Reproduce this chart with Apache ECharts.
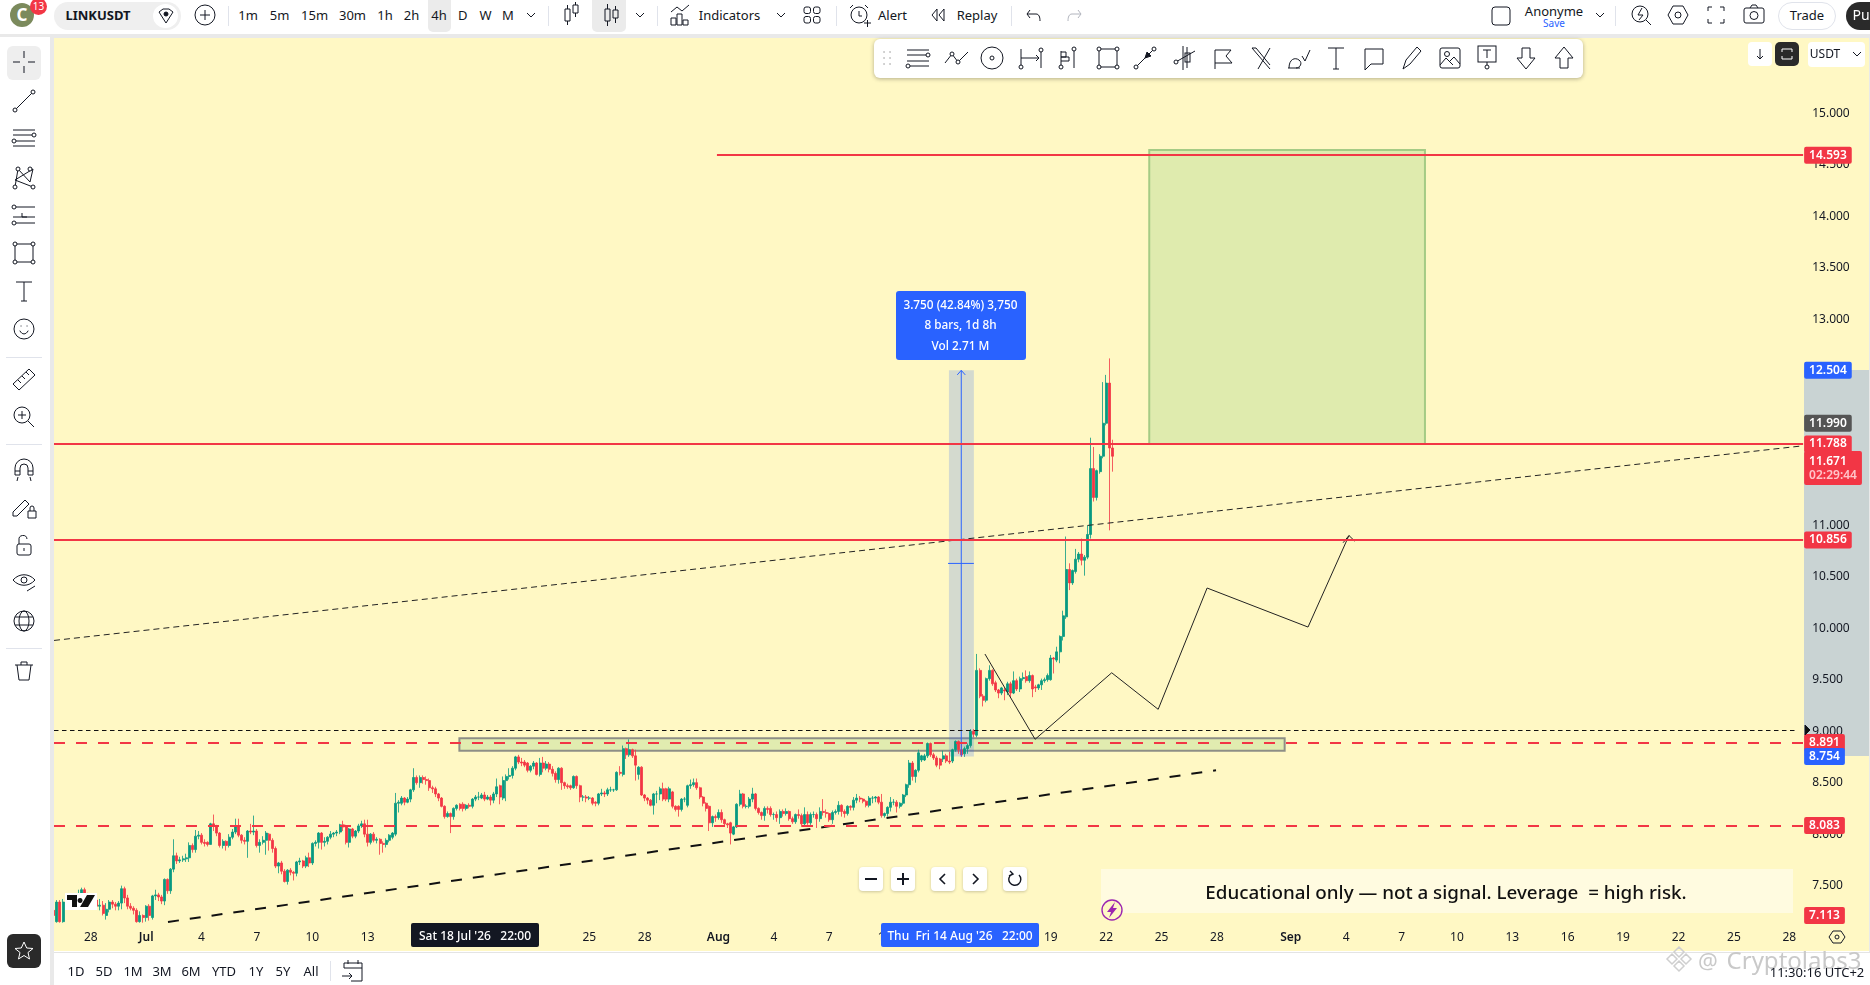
<!DOCTYPE html>
<html><head><meta charset="utf-8"><title>LINKUSDT</title>
<script src="https://cdn.jsdelivr.net/npm/echarts@6/dist/echarts.min.js"></script>
<style>
html,body{margin:0;padding:0;width:1870px;height:985px;overflow:hidden;background:#fff;font-family:"Noto Sans",sans-serif;color:#131722}
#panel{position:absolute;left:54px;top:37px;width:1815px;height:914px;background:#fff8c4}
#chart{position:absolute;left:0;top:0;width:1870px;height:985px}
#ui{position:absolute;left:0;top:0;width:1870px;height:985px;pointer-events:none}
.b{position:absolute;box-sizing:border-box}
.t{position:absolute;white-space:pre;transform:translate(-50%,-50%);font-size:13px;line-height:1.1}
svg{position:absolute;overflow:visible}
</style></head><body>
<div id="panel"></div><div id="chart"></div><div id="ui"></div>
<script>
// Candles [open, close, low, high]
const barsJun=[[7.26,7.21,7.14,7.33],[7.15,7.34,7.14,7.36],[7.34,7.15,7.14,7.36],[7.15,7.34,7.14,7.37],[7.34,7.35,7.30,7.38],[7.35,7.36,7.32,7.39],[7.36,7.37,7.33,7.40],[7.37,7.40,7.34,7.42],[7.40,7.41,7.37,7.46],[7.41,7.46,7.38,7.48],[7.46,7.42,7.38,7.48],[7.42,7.39,7.35,7.43],[7.39,7.40,7.35,7.42],[7.40,7.36,7.31,7.41],[7.36,7.30,7.27,7.38],[7.30,7.31,7.26,7.37],[7.31,7.23,7.21,7.35],[7.21,7.27,7.17,7.33],[7.27,7.34,7.24,7.36],[7.34,7.32,7.28,7.36],[7.32,7.30,7.26,7.34],[7.30,7.33,7.26,7.35],[7.33,7.47,7.27,7.50],[7.47,7.38,7.33,7.49],[7.38,7.30,7.27,7.41],[7.30,7.28,7.26,7.33],[7.28,7.26,7.22,7.30],[7.26,7.15,7.14,7.28],[7.15,7.21,7.14,7.25],[7.21,7.19,7.14,7.22]];
const barsJulA=[[7.19,7.30,7.15,7.31],[7.30,7.21,7.16,7.32],[7.19,7.40,7.17,7.41],[7.40,7.41,7.36,7.46],[7.41,7.39,7.35,7.43],[7.39,7.35,7.32,7.41],[7.35,7.56,7.31,7.57],[7.56,7.45,7.42,7.57],[7.45,7.66,7.42,7.67],[7.66,7.79,7.63,7.95],[7.79,7.74,7.71,7.82],[7.74,7.75,7.72,7.78],[7.75,7.76,7.73,7.79],[7.76,7.77,7.73,7.81],[7.77,7.89,7.73,7.92],[7.89,7.85,7.82,7.91],[7.85,7.98,7.82,8.04],[7.98,7.99,7.95,8.03],[7.99,7.92,7.90,8.01],[7.92,7.91,7.88,7.95],[7.92,7.90,7.88,7.93],[7.90,8.10,7.90,8.11],[8.10,8.08,8.03,8.19],[8.08,8.01,7.98,8.09],[8.01,7.89,7.87,8.02],[7.89,7.93,7.86,7.95],[7.93,7.89,7.84,7.94],[7.89,7.97,7.87,8.00],[7.97,8.02,7.95,8.05],[8.02,8.07,8.00,8.15],[8.07,7.99,7.97,8.15],[7.99,7.94,7.91,8.00],[7.94,7.93,7.90,7.97],[7.93,8.03,7.77,8.04],[8.03,8.02,8.00,8.10],[8.02,8.03,7.99,8.18],[8.03,7.89,7.87,8.05],[7.89,7.92,7.82,7.95],[7.92,7.94,7.90,7.98],[7.94,8.01,7.80,8.03],[8.00,7.94,7.84,8.01],[7.94,7.86,7.82,7.96],[7.86,7.69,7.67,7.88],[7.69,7.72,7.62,7.73],[7.72,7.64,7.61,7.74],[7.64,7.54,7.53,7.66],[7.54,7.65,7.51,7.66],[7.65,7.63,7.60,7.67],[7.63,7.62,7.55,7.64],[7.62,7.73,7.59,7.74],[7.73,7.74,7.70,7.77],[7.74,7.69,7.67,7.75],[7.69,7.77,7.67,7.79],[7.77,7.72,7.68,7.82],[7.72,7.91,7.70,7.92],[7.91,7.92,7.88,7.94],[7.92,8.01,7.86,8.02],[8.01,7.92,7.85,8.02],[7.92,7.93,7.88,7.97],[7.93,7.97,7.90,7.98],[7.97,8.00,7.95,8.03],[8.00,8.01,7.97,8.02],[8.01,8.02,7.98,8.04],[8.02,8.09,8.00,8.10],[8.09,8.07,8.03,8.13],[8.07,7.92,7.90,8.09],[7.92,8.05,7.87,8.06],[8.05,7.98,7.96,8.06],[7.98,8.03,7.96,8.04],[8.03,8.08,8.01,8.10],[8.08,8.10,8.06,8.13],[8.10,8.00,7.97,8.14],[8.00,7.92,7.88,8.14],[7.92,8.00,7.90,8.01],[8.00,7.94,7.92,8.02],[7.94,7.95,7.91,7.97],[7.95,7.91,7.80,7.96],[7.91,7.90,7.82,7.93],[7.90,7.94,7.87,7.96],[7.94,7.99,7.92,8.00],[7.97,8.01,7.95,8.02]];
const barsJulB=[[8.00,8.30,7.98,8.40],[8.30,8.31,8.21,8.33],[8.30,8.35,8.28,8.37],[8.35,8.31,8.28,8.36],[8.31,8.34,8.30,8.36],[8.34,8.43,8.31,8.44],[8.43,8.55,8.41,8.64],[8.55,8.50,8.48,8.57],[8.50,8.55,8.45,8.57],[8.55,8.53,8.49,8.57],[8.53,8.52,8.48,8.56],[8.52,8.45,8.42,8.54],[8.45,8.44,8.40,8.47],[8.44,8.39,8.36,8.46],[8.39,8.35,8.32,8.40],[8.35,8.27,8.26,8.36],[8.27,8.17,8.15,8.28],[8.17,8.20,8.16,8.22],[8.20,8.17,8.01,8.21],[8.17,8.25,8.14,8.26],[8.25,8.28,8.23,8.29],[8.29,8.25,8.23,8.30],[8.29,8.25,8.22,8.31],[8.25,8.28,8.23,8.29],[8.28,8.27,8.25,8.30],[8.27,8.34,8.25,8.35],[8.34,8.36,8.32,8.38],[8.36,8.36,8.33,8.41],[8.35,8.38,8.34,8.40],[8.38,8.34,8.32,8.41],[8.34,8.36,8.33,8.38],[8.36,8.33,8.28,8.38],[8.33,8.39,8.30,8.41],[8.39,8.46,8.36,8.54],[8.47,8.36,8.29,8.48],[8.35,8.52,8.33,8.56],[8.52,8.56,8.32,8.58],[8.56,8.57,8.53,8.64],[8.57,8.64,8.54,8.66],[8.64,8.75,8.62,8.76],[8.75,8.70,8.68,8.77],[8.70,8.69,8.66,8.74],[8.70,8.67,8.65,8.72],[8.69,8.62,8.60,8.70],[8.62,8.66,8.60,8.67],[8.66,8.69,8.63,8.71],[8.69,8.58,8.57,8.70],[8.58,8.69,8.56,8.74],[8.69,8.64,8.60,8.75],[8.64,8.68,8.62,8.71],[8.68,8.63,8.60,8.70],[8.63,8.59,8.56,8.66],[8.59,8.53,8.50,8.61],[8.53,8.64,8.49,8.65],[8.64,8.50,8.43,8.65],[8.50,8.47,8.44,8.51],[8.47,8.46,8.44,8.49],[8.47,8.45,8.43,8.48],[8.45,8.56,8.44,8.57],[8.56,8.47,8.44,8.57],[8.47,8.36,8.31,8.48],[8.36,8.36,8.32,8.38],[8.36,8.35,8.31,8.38],[8.35,8.35,8.33,8.37],[8.35,8.30,8.28,8.36],[8.31,8.30,8.27,8.32],[8.30,8.39,8.28,8.40],[8.39,8.40,8.37,8.44],[8.40,8.39,8.36,8.42],[8.39,8.43,8.37,8.45],[8.43,8.43,8.41,8.46],[8.43,8.43,8.41,8.44],[8.43,8.60,8.42,8.61],[8.60,8.59,8.57,8.66],[8.58,8.83,8.56,8.86],[8.83,8.77,8.73,8.84],[8.77,8.82,8.75,8.92],[8.82,8.76,8.74,8.83],[8.76,8.67,8.52,8.82],[8.58,8.65,8.53,8.66]];
const barsAug=[[8.65,8.38,8.37,8.66],[8.38,8.35,8.32,8.39],[8.35,8.33,8.29,8.36],[8.33,8.28,8.27,8.34],[8.28,8.39,8.19,8.40],[8.39,8.39,8.30,8.42],[8.39,8.44,8.33,8.46],[8.44,8.34,8.32,8.50],[8.44,8.34,8.32,8.45],[8.34,8.44,8.31,8.46],[8.41,8.27,8.25,8.42],[8.27,8.24,8.22,8.28],[8.27,8.24,8.17,8.28],[8.24,8.34,8.22,8.35],[8.34,8.34,8.31,8.36],[8.28,8.47,8.26,8.48],[8.47,8.48,8.44,8.53],[8.48,8.50,8.46,8.54],[8.50,8.45,8.43,8.54],[8.45,8.36,8.34,8.46],[8.36,8.30,8.27,8.37],[8.30,8.25,8.22,8.31],[8.27,8.11,8.03,8.28],[8.11,8.17,8.07,8.18],[8.17,8.16,8.12,8.19],[8.16,8.21,8.14,8.24],[8.21,8.14,8.11,8.24],[8.14,8.10,8.08,8.15],[8.10,8.09,8.06,8.11],[8.11,8.01,7.90,8.12],[8.00,8.07,7.99,8.08],[8.07,8.29,8.06,8.30],[8.29,8.39,8.27,8.43],[8.39,8.27,8.25,8.40],[8.27,8.27,8.25,8.29],[8.27,8.34,8.25,8.36],[8.34,8.39,8.31,8.45],[8.39,8.25,8.23,8.40],[8.25,8.21,8.19,8.26],[8.21,8.18,8.14,8.22],[8.18,8.25,8.13,8.27],[8.25,8.24,8.20,8.27],[8.25,8.19,8.17,8.27],[8.19,8.19,8.14,8.21],[8.19,8.16,8.12,8.22],[8.16,8.22,8.10,8.24],[8.22,8.20,8.17,8.24],[8.20,8.22,8.18,8.25],[8.22,8.15,8.13,8.23],[8.15,8.12,8.10,8.17],[8.12,8.19,8.10,8.20],[8.19,8.18,8.15,8.24],[8.18,8.10,8.07,8.20],[8.10,8.19,8.08,8.26],[8.19,8.11,8.09,8.22],[8.11,8.19,8.09,8.21],[8.19,8.19,8.16,8.22],[8.19,8.15,8.06,8.21],[8.15,8.22,8.12,8.26],[8.22,8.21,8.18,8.34],[8.21,8.20,8.16,8.24],[8.20,8.14,8.12,8.21],[8.14,8.21,8.10,8.23],[8.21,8.22,8.19,8.24],[8.22,8.28,8.19,8.32],[8.28,8.22,8.17,8.29],[8.22,8.20,8.16,8.24],[8.20,8.27,8.18,8.28],[8.27,8.26,8.23,8.28],[8.26,8.33,8.23,8.36],[8.33,8.35,8.30,8.39],[8.35,8.34,8.31,8.37],[8.34,8.32,8.30,8.35],[8.32,8.28,8.26,8.33],[8.28,8.35,8.26,8.37],[8.35,8.35,8.30,8.37],[8.35,8.36,8.31,8.37],[8.36,8.31,8.29,8.37],[8.31,8.18,8.16,8.39],[8.18,8.20,8.16,8.21],[8.20,8.26,8.17,8.27],[8.26,8.31,8.22,8.36],[8.31,8.31,8.28,8.34],[8.31,8.27,8.21,8.33],[8.27,8.30,8.25,8.31],[8.30,8.38,8.28,8.39],[8.38,8.48,8.36,8.49],[8.48,8.69,8.45,8.72],[8.69,8.56,8.52,8.71],[8.56,8.62,8.50,8.63],[8.62,8.79,8.60,8.82],[8.72,8.76,8.70,8.77],[8.72,8.76,8.71,8.78],[8.76,8.88,8.74,8.89],[8.88,8.77,8.75,8.89],[8.77,8.74,8.72,8.79],[8.74,8.67,8.65,8.76],[8.73,8.67,8.63,8.74],[8.73,8.76,8.70,8.81],[8.76,8.71,8.69,8.78],[8.71,8.70,8.68,8.80],[8.71,8.82,8.69,8.83],[8.82,8.90,8.80,8.91],[8.90,8.82,8.78,8.91],[8.82,8.77,8.75,8.90],[8.78,8.83,8.75,8.85],[8.83,8.86,8.78,8.88],[8.86,9.00,8.84,9.02]];
const barsRally=[[9.00,8.97,8.94,9.02],[8.96,9.59,8.94,9.75],[9.59,9.34,9.32,9.61],[9.34,9.30,9.24,9.36],[9.30,9.51,9.28,9.52],[9.51,9.59,9.49,9.64],[9.59,9.46,9.44,9.60],[9.47,9.40,9.38,9.49],[9.40,9.37,9.32,9.41],[9.37,9.42,9.35,9.43],[9.40,9.39,9.30,9.42],[9.38,9.46,9.35,9.48],[9.46,9.37,9.33,9.48],[9.37,9.49,9.36,9.58],[9.49,9.41,9.39,9.51],[9.41,9.51,9.38,9.53],[9.51,9.52,9.49,9.57],[9.53,9.49,9.47,9.59],[9.49,9.54,9.47,9.58],[9.54,9.41,9.33,9.55],[9.43,9.42,9.38,9.45],[9.42,9.45,9.40,9.46],[9.45,9.49,9.40,9.51],[9.49,9.50,9.47,9.52],[9.50,9.54,9.48,9.56],[9.50,9.71,9.49,9.74],[9.71,9.70,9.56,9.72],[9.69,9.77,9.67,9.82],[9.77,9.92,9.66,9.93],[9.92,10.12,9.88,10.17],[10.11,10.57,10.09,10.89],[10.57,10.44,10.37,10.63],[10.44,10.56,10.42,10.57],[10.55,10.67,10.53,10.77],[10.67,10.72,10.64,10.74],[10.72,10.66,10.61,10.87],[10.66,10.69,10.51,10.71],[10.69,10.91,10.67,11.00],[10.91,11.55,10.87,11.85],[11.55,11.27,11.23,11.76],[11.27,11.53,11.24,11.54],[11.52,11.67,11.50,11.69],[11.67,11.99,11.65,12.39],[11.99,12.38,11.97,12.46],[12.38,11.75,10.95,12.62],[11.75,11.67,11.52,11.83]];
const candles=[].concat(barsJun,barsJulA,barsJulB,barsAug,barsRally);

// Time axis
const barCount=570, firstBarDay=[2026,5,26];
const tickDays=['06-28','07-01','07-04','07-07','07-10','07-13','07-25','07-28','08-01','08-04','08-07','08-10','08-19','08-22','08-25','08-28','09-01','09-04','09-07','09-10','09-13','09-16','09-19','09-22','09-25','09-28'];
const tickTexts=['28','Jul','4','7','10','13','25','28','Aug','4','7','10','19','22','25','28','Sep','4','7','10','13','16','19','22','25','28'];
// Price axis
const priceTicks=[7.5,8,8.5,9,9.5,10,10.5,11,11.5,12,12.5,13,13.5,14,14.5,15];
const priceMin=7.1, priceMax=15.751;
// Horizontal levels
const solidLevels=[14.593,11.788,10.856], solidStarts=[215.5,-0.5,-0.5];
const dashedLevels=[8.891,8.083];
const blueTags=[12.504,8.754], grayTags=[11.990];
const bottomTag=7.113, lastPrice=11.671, countdown='02:29:44', dottedLevel=9.005;
// Drawings in [bar index, price]
const thinTrend=[[0.06,9.881],[567.8,11.769]];
const thickTrend=[[37.1,7.147],[377.7,8.62]];
const zigzag=[[302.6,9.749],[318.9,8.921],[343.8,9.567],[358.9,9.212],[374.8,10.39],[407.6,10.011],[420.9,10.9]];
const zigzagHead=[[419.0,10.83],[420.9,10.9],[422.8,10.845]];
const targetBox=[[356.0,14.644],[445.6,11.788]];
const demandBox=[[131.8,8.93],[400.0,8.81]];
const measureBox=[[290.9,12.504],[299.0,8.754]];
const measureLine=[[294.9,8.754],[294.9,12.504]];
const measureHead=[[293.6,12.46],[294.9,12.504],[296.2,12.46]];
const measureMid=[[290.6,10.629],[299.0,10.629]];

const RED='#f23645',BLUE='#2962ff',UP='#089981',DOWN='#f23645',FONT='"Noto Sans",sans-serif';
const pad2=n=>String(n).padStart(2,'0');
const categories=[];
for(let i=0;i<barCount;i++){
  const d=new Date(Date.UTC(firstBarDay[0],firstBarDay[1],firstBarDay[2])+i*4*3600e3);
  const k=tickDays.indexOf(pad2(d.getUTCMonth()+1)+'-'+pad2(d.getUTCDate()));
  categories.push(d.getUTCHours()===0&&k>=0?tickTexts[k]:'\u200b'+i);
}
const tagLabel=(text,color,extra)=>Object.assign({show:true,position:'end',distance:1,formatter:text,color:'#fff',backgroundColor:color,padding:[2,5,2,5],borderRadius:2,fontFamily:FONT,fontSize:12,fontWeight:600,lineHeight:13},extra||{});
const helper={type:'line',xAxisIndex:1,yAxisIndex:0,data:[],symbol:'none',silent:true,clip:false,animation:false};
const hline=(from,to,p,lineStyle,label,z)=>Object.assign({},helper,{z:z||6,markLine:{silent:true,animation:false,symbol:['none','none'],lineStyle:lineStyle,label:label||{show:false},data:[[{coord:[from,p]},{coord:[to,p]}]]}});
const poly=(data,w,color,dash,z)=>Object.assign({},helper,{data:data,z:z||4,lineStyle:{width:w,color:color,type:dash||'solid'}});
const box=(b,fill,border,bw,z)=>Object.assign({},helper,{z:z||1,markArea:{silent:true,animation:false,itemStyle:{color:fill,borderColor:border,borderWidth:bw},data:[[{coord:b[0]},{coord:b[1]}]]}});
const END=568.5,noLine={color:'rgba(0,0,0,0)',width:1};
const series=[
 box(targetBox,'rgba(76,175,80,.18)','#a5cb85',2),
 box(demandBox,'rgba(76,175,80,.17)','#8e8e86',2),
 {type:'candlestick',xAxisIndex:0,yAxisIndex:0,data:candles,z:2,barWidth:2.5,silent:true,animation:false,progressive:0,large:false,
  itemStyle:{color:UP,color0:DOWN,borderColor:UP,borderColor0:DOWN,borderWidth:0.8}},
 box(measureBox,'rgba(41,98,255,.2)','transparent',0,3),
 poly(measureLine,1,BLUE),poly(measureHead,1,BLUE),poly(measureMid,1,BLUE),
 poly(thinTrend,1,'#222',[6,4]),
 poly(thickTrend,2,'#111',[11,11]),
 poly(zigzag,1,'#222'),poly(zigzagHead,1,'#222'),
 hline(0.05,566.5,dottedLevel,{width:1,color:'#111',type:[4.5,3.5]})
];
solidLevels.forEach((p,k)=>series.push(hline(solidStarts[k],END,p,{width:2,color:RED,type:'solid'},tagLabel(p.toFixed(3),RED),8)));
dashedLevels.forEach(p=>series.push(hline(0.05,END,p,{width:2,color:RED,type:[11,11]},tagLabel(p.toFixed(3),RED),8)));
blueTags.forEach(p=>series.push(hline(END-.1,END,p,noLine,tagLabel(p.toFixed(3),BLUE),9)));
grayTags.forEach(p=>series.push(hline(END-.1,END,p,noLine,tagLabel(p.toFixed(3),'#555'),9)));
series.push(hline(END-.1,END,bottomTag,noLine,tagLabel(bottomTag.toFixed(3),RED,{offset:[0,-10]}),9));
series.push(hline(END-.1,END,lastPrice,noLine,{show:true,position:'end',distance:1,offset:[0,12],formatter:'{a|'+lastPrice.toFixed(3)+'}\n{b|'+countdown+'}',backgroundColor:RED,padding:[3,5,3,5],borderRadius:2,rich:{a:{color:'#fff',fontFamily:FONT,fontSize:12,fontWeight:600,lineHeight:14},b:{color:'#ffc4c9',fontFamily:FONT,fontSize:12,fontWeight:600,lineHeight:14}}},10));

const chart=echarts.init(document.getElementById('chart'),null,{width:1870,height:985});
chart.setOption({
 animation:false,backgroundColor:'transparent',
 grid:{left:52.3,top:36,width:1753.9,height:890.8,containLabel:false},
 xAxis:[
  {type:'category',data:categories,boundaryGap:true,axisLine:{show:false},axisTick:{show:false},splitLine:{show:false},
   axisLabel:{interval:0,hideOverlap:false,margin:5,color:'#131722',fontFamily:FONT,fontSize:12,
    formatter:v=>v.charAt(0)==='\u200b'?'':(/[A-Z]/.test(v)?'{m|'+v+'}':v),rich:{m:{fontWeight:600,fontFamily:FONT,fontSize:12,color:'#131722'}}}},
  {type:'value',min:-0.5,max:barCount-0.5,show:false,splitLine:{show:false}}
 ],
 yAxis:{type:'value',position:'right',min:priceMin,max:priceMax,z:3,axisLine:{show:false},axisTick:{show:false},splitLine:{show:false},
  axisLabel:{customValues:priceTicks,margin:6,color:'#131722',fontFamily:FONT,fontSize:12,formatter:v=>v.toFixed(3)}},
 series:series
});

// Price-axis highlight of the measured range, placed through the axis scale
(function(){
  const y0=chart.convertToPixel({yAxisIndex:0},measureBox[0][1]), y1=chart.convertToPixel({yAxisIndex:0},measureBox[1][1]);
  const e=document.createElement('div');
  e.style.cssText=`position:absolute;left:${1804-54}px;top:${y0-37}px;width:65px;height:${y1-y0}px;background:rgba(41,98,255,.25)`;
  document.getElementById('panel').appendChild(e);
})();

// ---------- terminal chrome ----------
const ui=document.getElementById('ui');
function box2(x,y,w,h,css){const e=document.createElement('div');e.className='b';e.style.cssText=`left:${x}px;top:${y}px;width:${w}px;height:${h}px;`+(css||'');ui.appendChild(e);return e;}
function txt(x,y,s,css){const e=document.createElement('div');e.className='t';e.textContent=s;e.style.cssText=`left:${x}px;top:${y}px;`+(css||'');ui.appendChild(e);return e;}
function ic(x,y,body,stroke,sw,fill){const n='http://www.w3.org/2000/svg';const s=document.createElementNS(n,'svg');s.setAttribute('width','1');s.setAttribute('height','1');s.style.left=x+'px';s.style.top=y+'px';s.innerHTML=`<g fill="${fill||'none'}" stroke="${stroke||'#131722'}" stroke-width="${sw||1}">${body}</g>`;ui.appendChild(s);}
const dot=(x,y,r)=>`<circle cx="${x}" cy="${y}" r="${r||2}" fill="#fff"/>`;
// bars and gutters
box2(0,0,1870,34,'background:#fff');box2(0,34,1870,3.5,'background:#e9e9e9');
box2(0,37,50,948,'background:#fff');box2(50,37,4,948,'background:#e9e9e9');
box2(54,951.5,1816,34,'background:#fff;border-top:1px solid #e4e4e4');
box2(1869,37,1,915,'background:#e9e9e9');
// avatar
box2(10,3,24,24,'border-radius:50%;background:#7b8a5c');txt(22,15,'C','color:#fff;font-weight:700;font-size:17px');
box2(30,-2,17,17,'border-radius:50%;background:#f23645');txt(38.5,6,'13','color:#fff;font-size:10px');
// symbol
box2(54,2,127,28,'border-radius:14px;background:#efefef');txt(98,15,'LINKUSDT','font-weight:700;font-size:13px');
box2(153,4,25,24,'border-radius:50%;background:#fff');
ic(166,16,'<path d="M-7,-4 L-3,-7 H3 L7,-4 L0,7 Z"/><circle cx="0" cy="-2" r="2" fill="#131722"/>');
ic(205,15,'<circle r="10"/><path d="M-5,0H5M0,-5V5"/>');
box2(228,6,1,20,'background:#e0e3eb');
[['1m',248],['5m',279.6],['15m',314.6],['30m',352.5],['1h',385],['2h',411.6],['D',462.7],['W',485.6],['M',508]].forEach(a=>txt(a[1],15,a[0]));
box2(428,0,23,32,'background:#ebebeb;border-radius:0 0 5px 5px');txt(439,15,'4h');
const caret=(x,y)=>ic(x,y,'<path d="M-4,-2 L0,2 L4,-2"/>');
caret(531,15);box2(547.5,6,1,20,'background:#e0e3eb');
ic(571,15,'<path d="M-6,-6h5v12h-5zM-3.5,-10v4M-3.5,6v4M2,-10h5v8h-5zM4.5,-13v3M4.5,-2v4"/>');
box2(592,0,34,32,'background:#ebebeb;border-radius:0 0 5px 5px');
ic(611,15,'<path d="M-6,-6h5v12h-5zM-3.5,-11v5M-3.5,6v5M2,-5h5v8h-5zM4.5,-9v4M4.5,3v5"/>');
caret(640,15);box2(657,6,1,20,'background:#e0e3eb');
ic(680,15,'<path d="M-9,10v-7h5v7zM-3,10v-11h5v11zM3,10v-5h5v5zM-9,-3L-3,-8L2,-4L9,-10"/>');
txt(729.5,15,'Indicators');caret(781,15);
ic(812,15,'<rect x="-8" y="-8" width="6.5" height="6.5" rx="2"/><rect x="1.5" y="-8" width="6.5" height="6.5" rx="2"/><rect x="-8" y="1.5" width="6.5" height="6.5" rx="2"/><rect x="1.5" y="1.5" width="6.5" height="6.5" rx="2"/>');
box2(836,6,1,20,'background:#e0e3eb');
ic(859,15,'<circle r="8" cy="0"/><path d="M0,-4V1H3M-9,-7L-6,-10M9,-7L6,-10M5,8h7M8.5,5v7"/>');
txt(892.5,15,'Alert');
ic(938,15,'<path d="M-1,-6L-6,0L-1,6ZM6,-6L1,0L6,6Z"/>');txt(977,15,'Replay');
box2(1011,6,1,20,'background:#e0e3eb');
ic(1034.5,15,'<path d="M-5,-5L-8,-1L-5,3M-8,-1H1C4,-1 5,2 5,6"/>');
ic(1072.5,15,'<path d="M5,-5L8,-1L5,3M8,-1H-1C-4,-1 -5,2 -5,6"/>','#b2b5be');
ic(1501,16,'<rect x="-9" y="-9" width="18" height="18" rx="3"/>');
txt(1554,11,'Anonyme');txt(1554,23,'Save','color:#2962ff;font-size:10px');
caret(1600,15);box2(1615,6,1,20,'background:#e0e3eb');
ic(1641,15,'<circle cx="-1" cy="-1" r="8"/><path d="M5,5L10,10M1,-7L-3,0H2L-2,5"/>');
ic(1678,15,'<path d="M-5,-9H5L10,0L5,9H-5L-10,0Z"/><circle r="3"/>');
ic(1715.5,15,'<path d="M-8,-4V-8H-4M4,-8H8V-4M8,4V8H4M-4,8H-8V4"/>');
ic(1753.5,15,'<rect x="-10" y="-7" width="20" height="15" rx="2"/><circle cy="0.5" r="4"/><path d="M-4,-7L-2,-10H2L4,-7"/>');
box2(1778,2,58,28,'border:1px solid #e0e3eb;border-radius:14px');txt(1807,15,'Trade');
box2(1846,2,30,28,'border-radius:14px 0 0 14px;background:#2a2a2a');txt(1861,15,'Pu','color:#fff;font-size:14px');
// floating drawing toolbar
box2(874,39,709,39,'background:#fff;border-radius:6px;box-shadow:0 1px 4px rgba(0,0,0,.3)');
const tx=z=>860+z/1.552, ty=58;
ic(tx(42),ty,'<path d="M-3,-6h.1M3,-6h.1M-3,0h.1M3,0h.1M-3,6h.1M3,6h.1" stroke-linecap="round" stroke-width="2"/>','#c8c8c8');
ic(tx(90),ty,'<path d="M-11,-8H11M-11,-3H9M-11,3H11M-8,8H11"/>'+dot(10,-3)+dot(-10,8));
ic(tx(150),ty,'<path d="M-12,5L-5,-4L1,4L11,-6"/>'+dot(-5,-4)+dot(1,4));
ic(tx(205),ty,'<circle r="11"/><circle r="2"/>');
ic(tx(265),ty,'<path d="M-10,-9V10M10,-9V10M-10,0H8M5,-3L8,0L5,3"/>'+dot(-10,9)+dot(10,-8));
ic(tx(323),ty,'<path d="M6,-10V10M-7,-7V10M-7,-6h5v5h-5M-7,-1h8v4h-8"/>'+dot(6,-9)+dot(-7,9));
ic(tx(385),ty,'<rect x="-9" y="-9" width="18" height="18"/>'+dot(-9,-9)+dot(9,-9)+dot(-9,9)+dot(9,9));
ic(tx(443),ty,'<path d="M-9,9L9,-9"/><path d="M0,0L6,-2L2,-6Z" fill="#131722"/>'+dot(-9,9)+dot(9,-9));
ic(tx(503),ty,'<path d="M-1,-12V12M3,-11V10M-10,5L11,-7"/><rect x="1" y="-5" width="5" height="9"/>'+dot(-8,4));
ic(tx(563),ty,'<path d="M-8,11V-8H8L3,-2L9,5H-8"/>');
ic(tx(622),ty,'<path d="M-9,-10L9,11M9,-10L-3,11M-9,-10H-5L9,7"/>');
ic(tx(682),ty,'<path d="M-11,10H1M-10,10C-10,1 -4,-1 0,2C4,5 1,10 -3,10M3,-2L6,3L11,-8"/>');
ic(tx(739),ty,'<path d="M-8,-10H8M0,-10V11M-3,11H3"/>');
ic(tx(798),ty,'<path d="M-9,-9H9V6H-3L-9,12Z"/>');
ic(tx(857),ty,'<path d="M-9,11L-6,2L5,-11L9,-7L-2,6Z"/>');
ic(tx(915),ty,'<rect x="-10" y="-10" width="20" height="20" rx="2"/><circle cx="-3" cy="-4" r="2.5"/><path d="M-10,7L-4,0L3,7M0,3L4,-1L10,6"/>');
ic(tx(973),ty-2,'<rect x="-9" y="-10" width="18" height="16"/><path d="M-4,-6H4M0,-6V2M0,6V10"/>'+dot(0,11));
ic(tx(1034),ty,'<path d="M-4,-10H4V0H9L0,11L-9,0H-4Z"/>');
ic(tx(1093),ty,'<path d="M-4,10H4V0H9L0,-11L-9,0H-4Z"/>');
box2(1748,42,24,24,'background:#fff;border-radius:4px');ic(1760,54,'<path d="M0,-5V5M-3,2L0,5L3,2"/>');
box2(1775,42,24,24,'background:#2a2a2a;border-radius:5px');ic(1787,54,'<path d="M-5,-2V-5H5V-2M-5,2V5H5V2"/>','#fff');
box2(1808,42,57,25,'background:#fff;border-radius:4px');txt(1825,54,'USDT','font-size:12px');caret(1857,54);
// left tools
box2(7,46,34,34,'background:#eee;border-radius:6px');
const L=y=>y*1.1926;
ic(24,L(52),'<path d="M-11,0H-4M4,0H11M0,-11V-4M0,4V11"/>');
ic(24,L(85),'<path d="M-9,9L9,-9"/>'+dot(-9,9)+dot(9,-9));
ic(24,L(116),'<path d="M-11,-8H11M-11,-3H8M-8,3H11M-11,8H11"/>'+dot(10,-3)+dot(-10,3));
ic(24,L(148),'<path d="M-9,10L-6,-8L6,5L9,-8L-9,3L9,10"/>'+dot(-6,-8)+dot(6,-8)+dot(-9,10)+dot(9,10));
ic(24,L(180),'<path d="M-8,-8H11M-8,8H11M-11,2H11M-2,-2V2H3"/>'+dot(-10,-8)+dot(-10,8));
ic(24,L(212),'<rect x="-9" y="-9" width="18" height="18"/>'+dot(-9,-9)+dot(9,-9)+dot(-9,9)+dot(9,9));
ic(24,L(244),'<path d="M-8,-9H8M0,-9V10M-3,10H3"/>');
ic(24,L(276),'<circle r="10"/><path d="M-4,2C-2,6 2,6 4,2M-3,-3h.1M3,-3h.1" stroke-linecap="round"/>');
box2(6,L(299),36,1,'background:#e0e3eb');
ic(24,L(318),'<path d="M-11,5L5,-10L11,-4L-5,11ZM-6,1L-3,4M-2,-3L1,0M2,-7L5,-4"/>');
ic(24,L(350),'<circle cx="-2" cy="-2" r="8"/><path d="M4,4L10,10M-6,-2H2M-2,-6V2"/>');
box2(6,L(372),36,1,'background:#e0e3eb');
ic(24,L(394),'<path d="M-9,5V-2A9,9 0 0 1 9,-2V5H4V-2A4,4 0 0 0 -4,-2V5ZM-9,1H-4M4,1H9M-6,7L-7,11M6,7L7,11"/>');
ic(24,L(426),'<path d="M-11,4L1,-8L5,-4L-7,8H-11ZM4,3h8v7h-8zM6,3V0a2,2 0 0 1 4,0V3"/>');
ic(24,L(457),'<rect x="-7" y="-1" width="14" height="11" rx="2"/><path d="M-5,-1V-5a4,4 0 0 1 8,-1M0,3V6"/>');
ic(24,L(488),'<path d="M-11,-2C-5,-9 5,-9 11,-2C5,5 -5,5 -11,-2Z"/><circle cy="-2" r="3"/><path d="M3,9L11,4"/>');
ic(24,L(521),'<circle r="10"/><ellipse rx="5" ry="10"/><path d="M-9,-4H9M-9,4H9"/>');
box2(6,L(543),36,1,'background:#e0e3eb');
ic(24,L(563),'<path d="M-9,-6H9M-7,-6L-5,9H5L7,-6M-3,-6V-9H3V-6"/>');
box2(7,934,34,34,'background:#2a2a2a;border-radius:6px');
ic(24,951,'<path d="M0,-9L2.7,-3L9,-2.5L4,1.5L5.5,8L0,4.5L-5.5,8L-4,1.5L-9,-2.5L-2.7,-3Z"/>','#fff');
// measure info box
box2(895.5,291,130,69,'background:#2962ff;border-radius:3px');
txt(960.5,304,'3.750 (42.84%) 3,750','color:#fff;font-size:11.8px;font-weight:500');
txt(960.5,324,'8 bars, 1d 8h','color:#fff;font-size:11.8px;font-weight:500');
txt(960.5,344.5,'Vol 2.71 M','color:#fff;font-size:11.8px;font-weight:500');
// last-price marker
ic(1805,730,'<path d="M0,-5L5,0L0,5Z" fill="#111"/>');
// logo
box2(65,893,32,17,'background:#fff');
ic(67,895,'<path d="M0,0H10V12H5V5H0ZM13,3a2.5,2.5 0 1 0 .1,0ZM20,0H28L21,12H13Z" fill="#111" stroke="none"/>');
// chart buttons
[[871,'<path d="M-6,0H6" stroke-width="2"/>'],[903,'<path d="M-6,0H6M0,-6V6" stroke-width="2"/>'],[943,'<path d="M2,-5L-3,0L2,5" stroke-width="1.6"/>'],[975,'<path d="M-2,-5L3,0L-2,5" stroke-width="1.6"/>'],[1015,'<path d="M4,-4A6,6 0 1 1 -3,-5M-5,-8L-2,-5L-6,-3" stroke-width="1.4"/>']].forEach(a=>{box2(a[0]-12,867,24,24,'background:#fff;border-radius:4px;box-shadow:0 1px 3px rgba(0,0,0,.2)');ic(a[0],879,a[1]);});
// note
box2(1100.5,869,692.5,44,'background:#fffbe0');
txt(1446,891.5,'Educational only — not a signal. Leverage  = high risk.','font-size:18.8px;font-weight:500;color:#111');
ic(1112,910,'<circle r="10" fill="#fff8c4"/><path d="M3,-8L-5,2H-1L-3,8L5,-2H1Z" fill="#9c27b0" stroke="none"/>','#9c27b0',1.4);
// time pills
box2(411,923,128,24,'background:#131722;border-radius:2px');txt(475,936,"Sat 18 Jul '26   22:00",'color:#fff;font-size:12px;font-weight:500');
box2(881,923,158,24,'background:#2962ff;border-radius:2px');txt(960,936,"Thu  Fri 14 Aug '26   22:00",'color:#fff;font-size:12px;font-weight:500');
ic(1837,937,'<path d="M-4,-6H4L8,0L4,6H-4L-8,0Z"/><circle r="2"/>');
// bottom bar
[['1D',76],['5D',104],['1M',133],['3M',162],['6M',191],['YTD',224],['1Y',256],['5Y',283],['All',311]].forEach(a=>txt(a[1],971,a[0]));
box2(330,961,1,20,'background:#e0e3eb');
ic(353,971,'<path d="M-9,-3V-8H9V10H-2M-9,-3H9M-5,-11V-7M5,-11V-7M-11,5H-1M-4,2L-1,5L-4,8"/>');
ic(1679,958,'<path d="M0,-11L5,-6L0,-1L-5,-6ZM-7,-4L-2,1L-7,6L-12,1ZM7,-4L12,1L7,6L2,1ZM0,3L5,8L0,13L-5,8Z"/>','#cfcfcf',1.5);
txt(1708,960,'@','font-size:22px;color:#c9c9c9');
txt(1794,960,'Cryptolabs3','font-size:24px;color:#c9c9c9');
txt(1817,972,'11:30:16 UTC+2','font-size:13px;color:#131722');
</script>
</body></html>
